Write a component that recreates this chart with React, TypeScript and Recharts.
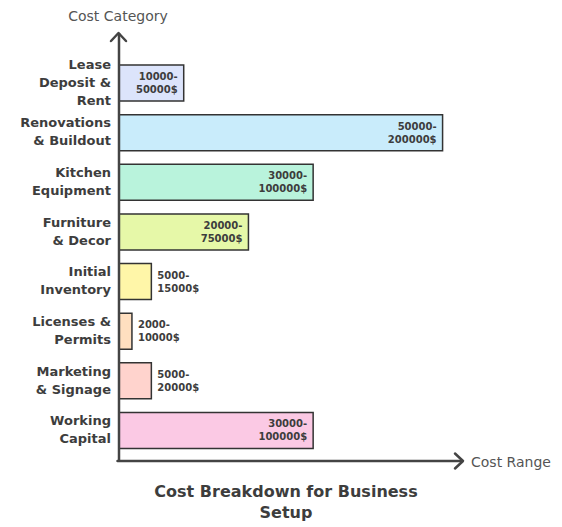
import React from 'react';
import { BarChart, Bar, XAxis, YAxis, Cell, LabelList } from 'recharts';

const categories = [
  'Lease\nDeposit &\nRent',
  'Renovations\n& Buildout',
  'Kitchen\nEquipment',
  'Furniture\n& Decor',
  'Initial\nInventory',
  'Licenses &\nPermits',
  'Marketing\n& Signage',
  'Working\nCapital',
];
const lowCost = [10000, 50000, 30000, 20000, 5000, 2000, 5000, 30000];
const highCost = [50000, 200000, 100000, 75000, 15000, 10000, 20000, 100000];
const barColors = ['#dce4fb', '#c9ecfb', '#b9f3dc', '#e6f8a8', '#fff6a8', '#ffdfc0', '#ffd3cd', '#fbc9e4'];

const data = categories.map((name, i) => ({ name, low: lowCost[i], high: highCost[i] }));

const W = 562;
const H = 527;
const FONT = '"DejaVu Sans", sans-serif';
const INK = '#3d3d3d';

function CategoryTick(props: any) {
  const { x, y, payload } = props;
  const lines = String(payload.value).split('\n');
  const first = y - (lines.length - 1) * 9 + 4;
  return (
    <text x={x} y={first} textAnchor="end" fill={INK} fontFamily={FONT} fontWeight="bold" fontSize={13}>
      {lines.map((l, i) => (
        <tspan key={i} x={x} y={first + i * 18}>{l}</tspan>
      ))}
    </text>
  );
}

function RangeLabel(props: any) {
  const { x, y, width, height, index } = props;
  const top = `${lowCost[index]}-`;
  const bottom = `${highCost[index]}$`;
  const inside = width > 50;
  const tx = inside ? x + width - 6 : x + width + 6;
  const cy = y + height / 2;
  return (
    <text textAnchor={inside ? 'end' : 'start'} fill={INK} fontFamily={FONT} fontWeight="bold" fontSize={10}>
      <tspan x={tx} y={cy - 3}>{top}</tspan>
      <tspan x={tx} y={cy + 10}>{bottom}</tspan>
    </text>
  );
}

export default function App() {
  return (
    <div style={{ position: 'absolute', left: 0, top: 0, width: W, height: H, background: '#fff' }}>
      <BarChart
        width={W}
        height={H}
        data={data}
        layout="vertical"
        margin={{ top: 33, right: 100, bottom: 66, left: 0 }}
      >
        <XAxis type="number" domain={[0, 53000]} hide />
        <YAxis
          type="category"
          dataKey="name"
          width={119}
          padding={{ top: 25, bottom: 6 }}
          tickLine={false}
          axisLine={{ stroke: '#444', strokeWidth: 2.5 }}
          tick={<CategoryTick />}
          interval={0}
        />
        <Bar dataKey="low" barSize={36} stroke="#333" strokeWidth={1.5} isAnimationActive={false}>
          {data.map((d, i) => (
            <Cell key={d.name} fill={barColors[i]} />
          ))}
          <LabelList dataKey="low" content={<RangeLabel />} />
        </Bar>
      </BarChart>
      <svg width={W} height={H} style={{ position: 'absolute', left: 0, top: 0, pointerEvents: 'none' }}>
        <line x1={117.5} y1={461} x2={462} y2={461} stroke="#444" strokeWidth={2.5} strokeLinecap="round" />
        <polyline points="111,41 118.5,33 126,41" fill="none" stroke="#444" strokeWidth={2.5} strokeLinecap="round" strokeLinejoin="round" />
        <polyline points="455,453.5 463,461 455,468.5" fill="none" stroke="#444" strokeWidth={2.5} strokeLinecap="round" strokeLinejoin="round" />
        <text x={118} y={21} textAnchor="middle" fill="#555" fontFamily={FONT} fontSize={14}>Cost Category</text>
        <text x={471} y={467} fill="#555" fontFamily={FONT} fontSize={14}>Cost Range</text>
        <text x={286} y={497} textAnchor="middle" fill={INK} fontFamily={FONT} fontWeight="bold" fontSize={16}>Cost Breakdown for Business</text>
        <text x={286} y={518} textAnchor="middle" fill={INK} fontFamily={FONT} fontWeight="bold" fontSize={16}>Setup</text>
      </svg>
    </div>
  );
}
